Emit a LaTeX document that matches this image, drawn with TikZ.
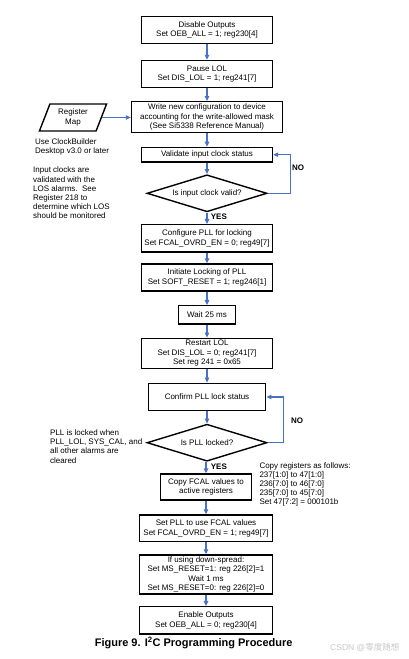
\documentclass[tikz,border=0pt]{standalone}
\usepackage{fontspec}
\setmainfont{Liberation Sans}
\newfontfamily\cjkfont{Noto Sans CJK SC}
\usetikzlibrary{arrows.meta,shapes.geometric}
\definecolor{flowblue}{RGB}{72,114,196}
\begin{document}
\begin{tikzpicture}[x=1pt,y=-1pt,font=\fontsize{8}{9.3}\selectfont,
  box/.style={draw,line width=1.4pt,align=center,inner sep=0pt},
  decide/.style={diamond,draw,line width=1.4pt,inner sep=0pt,aspect=3.2,
    minimum width=120pt,minimum height=37pt},
  note/.style={align=left,inner sep=0pt,anchor=west},
  tag/.style={font=\fontsize{8}{9.3}\selectfont\bfseries,inner sep=0pt,anchor=west},
  flow/.style={draw=flowblue,line width=1.1pt,-{Triangle[length=5pt,width=4.5pt]}}]
  \useasboundingbox (0,0) rectangle (409,659);

  % main column
  \node[box,minimum width=131pt,minimum height=27pt] (b1) at (207,29.7)
    {Disable Outputs\\Set OEB\_ALL = 1; reg230[4]};
  \node[box,minimum width=131pt,minimum height=27pt] (b2) at (207,74)
    {Pause LOL\\Set DIS\_LOL = 1; reg241[7]};
  \node[box,minimum width=151pt,minimum height=30.6pt] (b3) at (207,117)
    {Write new configuration to device\\accounting for the write-allowed mask\\(See Si5338 Reference Manual)};
  \node[box,minimum width=131pt,minimum height=14.7pt] (b4) at (207,154.7)
    {Validate input clock status};
  \node[decide] (d1) at (207,193.3) {Is input clock valid?};
  \node[box,minimum width=131pt,minimum height=27.3pt] (b5) at (207,238.3)
    {Configure PLL for locking\\Set FCAL\_OVRD\_EN = 0; reg49[7]};
  \node[box,minimum width=131pt,minimum height=27pt] (b6) at (207,277.5)
    {Initiate Locking of PLL\\Set SOFT\_RESET = 1; reg246[1]};
  \node[box,minimum width=56.7pt,minimum height=18.3pt] (b7) at (207,314.8)
    {Wait 25 ms};
  \node[box,minimum width=131pt,minimum height=30pt] (b8) at (207,353.3)
    {Restart LOL\\Set DIS\_LOL = 0; reg241[7]\\Set reg 241 = 0x65};
  \node[box,minimum width=117.4pt,minimum height=27.4pt] (b9) at (207,397)
    {Confirm PLL lock status};
  \node[decide] (d2) at (207,442.7) {Is PLL locked?};
  \node[box,minimum width=91.4pt,minimum height=26pt] (b10) at (206,487)
    {Copy FCAL values to\\active registers};
  \node[box,minimum width=133pt,minimum height=26.7pt] (b11) at (206,528.3)
    {Set PLL to use FCAL values\\Set FCAL\_OVRD\_EN = 1; reg49[7]};
  \node[box,minimum width=133pt,minimum height=39pt] (b12) at (206,574.5)
    {If using down-spread:\\Set MS\_RESET=1: reg 226[2]=1\\Wait 1 ms\\Set MS\_RESET=0: reg 226[2]=0};
  \node[box,minimum width=133pt,minimum height=27.3pt] (b13) at (206,620.3)
    {Enable Outputs\\Set OEB\_ALL = 0; reg230[4]};

  % register map input
  \node[trapezium,draw,line width=1.4pt,inner sep=0pt,align=center,
    trapezium left angle=68,trapezium right angle=112,trapezium stretches=true,
    minimum width=67.4pt,minimum height=27pt] (reg) at (73,117.5) {Register\\Map};

  % side notes
  \node[note,font=\fontsize{8}{8.4}\selectfont] (n1) at (35,147)
    {Use ClockBuilder\\Desktop v3.0 or later};
  \node[note,font=\fontsize{8}{9.2}\selectfont] (n2) at (33,193)
    {Input clocks are\\validated with the\\LOS alarms.\ \ See\\Register 218 to\\determine which LOS\\should be monitored};
  \node[note,font=\fontsize{8}{9.2}\selectfont] (n3) at (50,446.5)
    {PLL is locked when\\PLL\_LOL, SYS\_CAL, and\\all other alarms are\\cleared};
  \node[note,font=\fontsize{8}{9}\selectfont] (n4) at (259.3,484.7)
    {Copy registers as follows:\\237[1:0] to 47[1:0]\\236[7:0] to 46[7:0]\\235[7:0] to 45[7:0]\\Set 47[7:2] = 000101b};

  % arrows
  \draw[flow] (b1) -- (b2);
  \draw[flow] (b2) -- (b3);
  \draw[flow] (reg.east) -- (reg.east -| b3.west);
  \draw[flow] (b3) -- (b4);
  \draw[flow] (b4) -- (d1);
  \draw[flow] (d1.east) -- ++(22.6,0) |- (b4.east);
  \draw[flow] (d1) -- (b5);
  \draw[flow] (b5) -- (b6);
  \draw[flow] (b6) -- (b7);
  \draw[flow] (b7) -- (b8);
  \draw[flow] (b8) -- (b9);
  \draw[flow] (b9) -- (d2);
  \draw[flow] (d2.east) -- ++(16,0) |- (b9.east);
  \draw[flow] (d2.south -| b10.north) -- (b10.north);
  \draw[flow] (b10) -- (b11);
  \draw[flow] (b11) -- (b12);
  \draw[flow] (b12) -- (b13);

  % branch labels
  \node[tag] (no1) at (292,168) {NO};
  \node[tag] (yes1) at (210.7,217) {YES};
  \node[tag] (no2) at (291,421) {NO};
  \node[tag] (yes2) at (210.7,466.7) {YES};

  % caption
  \node[font=\fontsize{11}{13}\selectfont\bfseries,inner sep=0pt] (cap) at (193.7,643)
    {Figure 9. I\textsuperscript{2}C Programming Procedure};
  \node[font=\fontsize{8.5}{10}\selectfont,text=black!22,inner sep=0pt,anchor=west] (mark) at (330,647)
    {CSDN @{\cjkfont 零度随想}};
\end{tikzpicture}
\end{document}
